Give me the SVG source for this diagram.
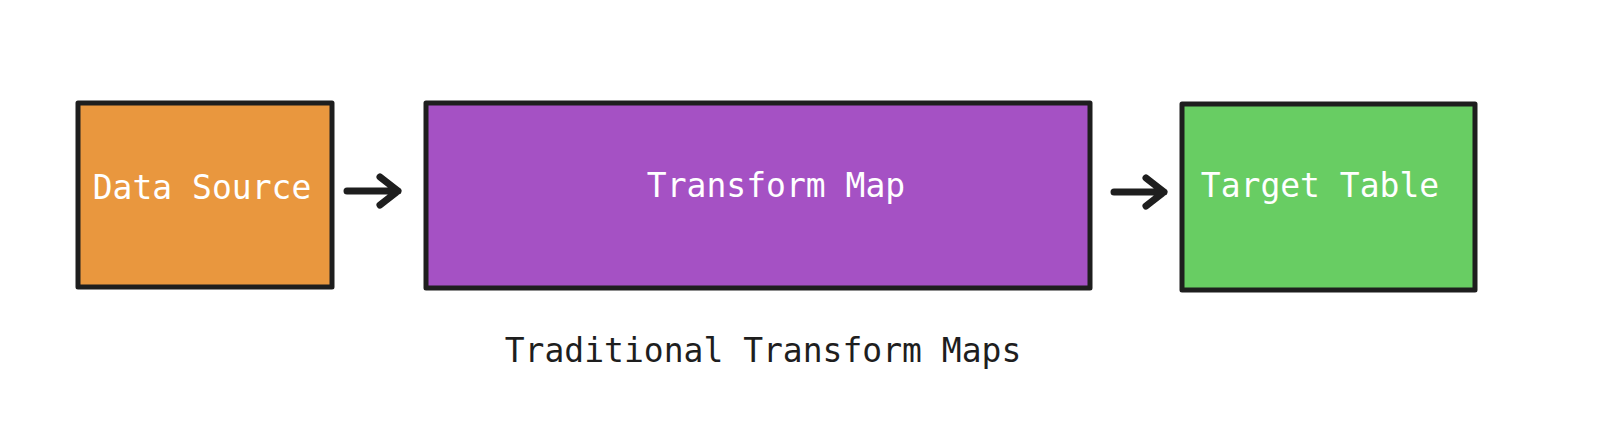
<svg xmlns="http://www.w3.org/2000/svg" width="1600" height="440" viewBox="0 0 1600 440">
<style>
.box{stroke:#1e1e1e;stroke-width:5;stroke-linejoin:round}
.lbl{font-family:"DejaVu Sans Mono","Liberation Mono",monospace;font-size:33px;fill:#fff;text-anchor:middle;dominant-baseline:central}
.cap{font-family:"DejaVu Sans Mono","Liberation Mono",monospace;font-size:33px;fill:#1e1e1e;text-anchor:middle;dominant-baseline:central}
.arr{stroke:#1e1e1e;stroke-width:7;fill:none;stroke-linecap:round;stroke-linejoin:round}
</style>
<rect width="1600" height="440" fill="#fff"/>
<g id="data-source"><rect class="box" x="78" y="103" width="254" height="184" fill="#e9973e"/><text class="lbl" x="202" y="187">Data Source</text></g>
<g id="transform-map"><rect class="box" x="426" y="103" width="664" height="185" fill="#a551c4"/><text class="lbl" x="776" y="185">Transform Map</text></g>
<g id="target-table"><rect class="box" x="1182" y="104" width="293" height="186" fill="#68cd63"/><text class="lbl" x="1320" y="185">Target Table</text></g>
<g id="connectors">
<path class="arr" d="M347 191 H398 M380 177 L398 191 L380 205"/>
<path class="arr" d="M1114 192 H1164 M1146 178 L1164 192 L1146 206"/>
</g>
<text class="cap" x="763" y="350">Traditional Transform Maps</text>
</svg>
